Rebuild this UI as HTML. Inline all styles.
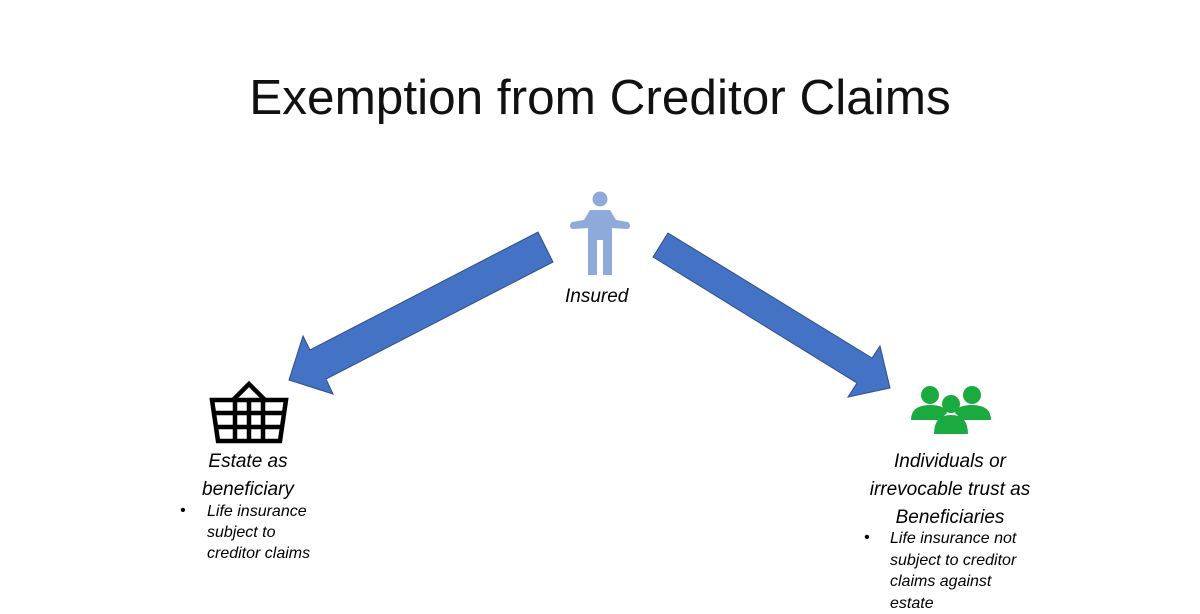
<!DOCTYPE html>
<html><head><style>
body{margin:0;width:1200px;height:600px;background:#fff;overflow:hidden;position:relative;font-family:"Liberation Sans",sans-serif;}
.t{position:absolute;white-space:nowrap;font-style:italic;color:#000;}
</style></head><body>
<div style="position:absolute;left:0;width:1200px;top:69px;text-align:center;font-size:49.5px;color:#111;">Exemption from Creditor Claims</div>
<svg width="1200" height="600" style="position:absolute;left:0;top:0">
<polygon points="538,232 553,262 326,379 333,394 289,380 303,336 310,350" fill="#4472c4" stroke="#2f4f8a" stroke-width="1"/>
<polygon points="668,233 653,257 857,383 848,397 890,388 880,346 872,358" fill="#4472c4" stroke="#2f4f8a" stroke-width="1"/>
<g fill="#8eaadb">
<circle cx="600" cy="199" r="7.5"/>
<path d="M590,210 H610 L616,220 L628,222 Q632,226 628,229 L612,228 V275 H603 V240 H597 V275 H588 V228 L572,229 Q568,226 572,222 L584,220 Z"/>
</g>
<g stroke="#000" stroke-width="4.5" fill="none">
<path d="M233,400 L249,384 L265,400"/>
<path d="M212,400 H286 L280,441 H218 Z"/>
<path d="M215,413 H283 M216,427 H282 M235,402 V440 M249,402 V440 M263,402 V440"/>
</g>
<g fill="#1aaa3f">
<circle cx="930" cy="395" r="9"/><path d="M911,420 Q911,405 930,405 Q945,405 947,413 L940,420 Z"/>
<circle cx="972" cy="395" r="9"/><path d="M991,420 Q991,405 972,405 Q957,405 955,413 L962,420 Z"/>
<circle cx="951" cy="404" r="9"/><path d="M934,434 Q934,415 951,415 Q968,415 968,434 Z"/>
</g>
</svg>
<div class="t" style="left:565px;top:286px;font-size:19px;">Insured</div>
<div class="t" style="left:150px;top:448px;width:196px;text-align:center;font-size:19px;line-height:28px;">Estate as<br>beneficiary</div>
<div class="t" style="left:180px;top:501px;font-size:16px;line-height:20px;">•</div>
<div class="t" style="left:207px;top:501px;font-size:16px;line-height:21px;">Life insurance<br>subject to<br>creditor claims</div>
<div class="t" style="left:850px;top:448px;width:200px;text-align:center;font-size:19px;line-height:28px;">Individuals or<br>irrevocable trust as<br>Beneficiaries</div>
<div class="t" style="left:864px;top:528px;font-size:16px;line-height:20px;">•</div>
<div class="t" style="left:890px;top:528px;font-size:16px;line-height:21.5px;">Life insurance not<br>subject to creditor<br>claims against<br>estate</div>
</body></html>
